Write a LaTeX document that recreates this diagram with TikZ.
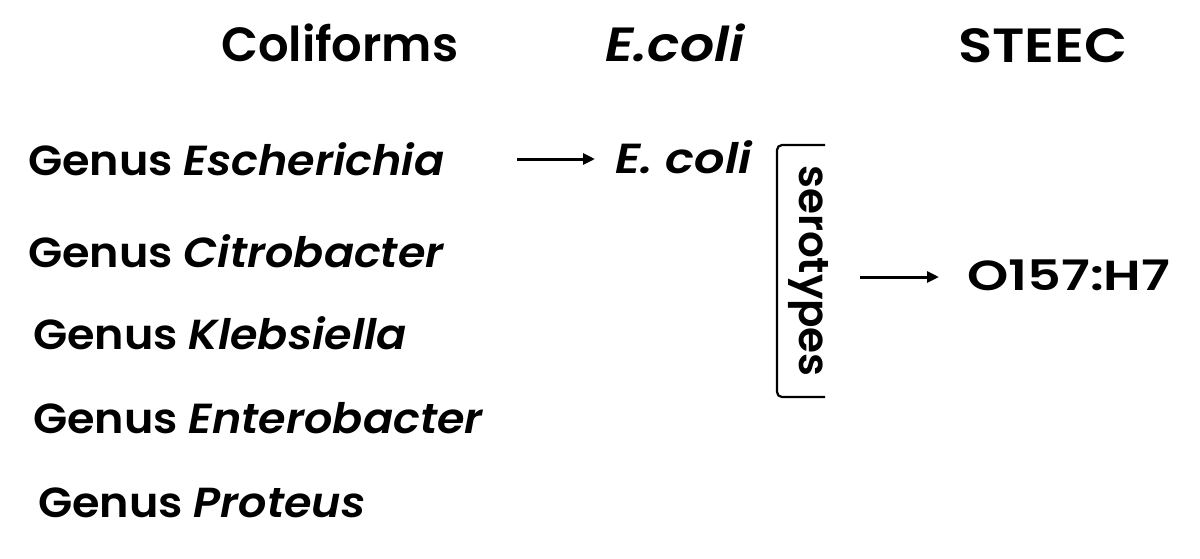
\documentclass[tikz,border=0pt]{standalone}
\usepackage{fontspec}
\setmainfont{Poppins SemiBold}[ItalicFont={Poppins SemiBold Italic}]
\usetikzlibrary{arrows.meta}
\tikzset{
  head/.style={font=\fontsize{48}{48}\selectfont, inner sep=0pt, anchor=base west},
  genus/.style={font=\fontsize{42}{42}\selectfont, inner sep=0pt, anchor=base west},
  arr/.style={line width=3pt, -{Triangle[length=12pt,width=11pt]}},
  brk/.style={line width=2.2pt, rounded corners=5pt}
}
\begin{document}
\begin{tikzpicture}[x=1pt,y=-1pt]
\useasboundingbox (0,0) rectangle (1200,558);
\node[head] (hcol) at (221,61) {Coliforms};
\node[head, xscale=1.12] (hecoli) at (605,61) {\itshape E.coli};
\node[head, xscale=1.17] (hsteec) at (958,62) {STEEC};
\node[genus, xscale=1.06] (esch) at (28,175) {Genus \textit{Escherichia}};
\node[genus, xscale=1.06] (citro) at (28,267) {Genus \textit{Citrobacter}};
\node[genus, xscale=1.06] (kleb) at (33,349) {Genus \textit{Klebsiella}};
\node[genus, xscale=1.06] (entero) at (33,433) {Genus \textit{Enterobacter}};
\node[genus, xscale=1.06] (prot) at (38,517) {Genus \textit{Proteus}};
\node[genus, xscale=1.14] (ecoli) at (615,173) {\textit{E. coli}};
\node[genus, anchor=center, rotate=-90] (sero) at (808,271) {serotypes};
\node[genus, xscale=1.25] (o157) at (967,290) {O157:H7};
\coordinate (a1s) at (517,159);
\coordinate (a1e) at (595,159);
\coordinate (a2s) at (860,277);
\coordinate (a2e) at (939,277);
\coordinate (bt) at (825,145);
\coordinate (bb) at (825,397);
\draw[arr] (a1s) -- (a1e);
\draw[arr] (a2s) -- (a2e);
\draw[brk] (bt) -- (777,145) -- (777,397) -- (bb);
\end{tikzpicture}
\end{document}
